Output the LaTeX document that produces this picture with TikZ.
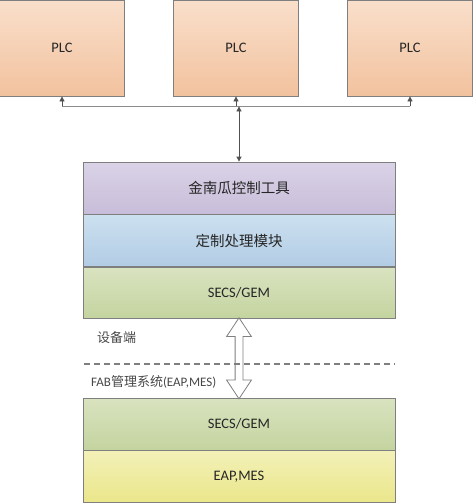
\documentclass[tikz,border=0pt]{standalone}
\usepackage{fontspec}
\setmainfont{Carlito}
\newfontfamily\cjk{Noto Sans CJK SC}
\usetikzlibrary{arrows.meta, shapes, positioning, calc}

\definecolor{boxline}{HTML}{7F7F7F}
\definecolor{wirecol}{HTML}{8C8C8C}
\definecolor{txt}{HTML}{262626}
\definecolor{plctop}{HTML}{F9DFCB}
\definecolor{plcbot}{HTML}{F2C29E}
\definecolor{purtop}{HTML}{DAD3E7}
\definecolor{purbot}{HTML}{C8BDD9}
\definecolor{blutop}{HTML}{CCE0EF}
\definecolor{blubot}{HTML}{B2CCE5}
\definecolor{grntop}{HTML}{D9E3C0}
\definecolor{grnbot}{HTML}{C4D49F}
\definecolor{yeltop}{HTML}{F3F1B8}
\definecolor{yelbot}{HTML}{EAE68A}

\begin{document}
\begin{tikzpicture}[x=1pt, y=1pt, node distance = 0pt,
    plc/.style = {draw=boxline, line width=0.8pt, top color=plctop, bottom color=plcbot,
      minimum width=125pt, minimum height=96pt, text=txt, font=\fontsize{14.5}{16}\selectfont},
    layer/.style = {draw=boxline, line width=0.8pt, minimum width=312pt, minimum height=52pt,
      text=txt, font=\fontsize{14.5}{16}\selectfont},
    side/.style = {anchor=west, text=txt!85, inner sep=0pt, font=\fontsize{13}{15}\selectfont},
    wire/.style = {draw=wirecol, line width=0.8pt},
    tip/.style = {-{Triangle[length=5pt, width=5pt]}, draw=txt!80, fill=txt!80},
    bigarrow/.style = {double arrow, draw=boxline, fill=white, line width=0.8pt, inner sep=3.5pt,
      minimum height=81pt, minimum width=24pt, double arrow head extend=8.5pt,
      double arrow tip angle=67, rotate=90}]
  \useasboundingbox (0,0) rectangle (474,-504);

  \node[plc] (plcA) at (62,-48)  {PLC};
  \node[plc] (plcB) at (236,-48) {PLC};
  \node[plc] (plcC) at (410,-48) {PLC};

  \node[layer, top color=purtop, bottom color=purbot] (tool) at (239,-188) {\cjk 金南瓜控制工具};
  \node[layer, top color=blutop, bottom color=blubot, below = of tool] (custom) {\cjk 定制处理模块};
  \node[layer, top color=grntop, bottom color=grnbot, below = of custom, minimum height=51pt] (secsA) {SECS/GEM};

  \node[layer, top color=grntop, bottom color=grnbot] (secsB) at (239,-424) {SECS/GEM};
  \node[layer, top color=yeltop, bottom color=yelbot, below = of secsB] (eap) {EAP,MES};

  % bus to the PLCs
  \coordinate (busA) at ($(plcA.south)+(0,-10)$);
  \coordinate (busB) at ($(plcB.south)+(0,-10)$);
  \coordinate (busC) at ($(plcC.south)+(0,-10)$);
  \coordinate (bus) at (tool.north |- busA);
  \draw[wire] (busA) -- (busC);
  \draw[wire, tip] (busA) -- (plcA.south);
  \draw[wire, tip] (busB) -- (plcB.south);
  \draw[wire, tip] (busC) -- (plcC.south);
  \draw[wire, {Triangle[length=5pt, width=5pt]}-{Triangle[length=5pt, width=5pt]}, draw=txt!80, fill=txt!80]
    (bus) -- (tool.north);

  % equipment side / FAB side
  \node[bigarrow] (link) at ($(secsA.south)!0.5!(secsB.north)$) {};
  \coordinate (cutL) at (84,-364);
  \coordinate (cutR) at (395,-364);
  \draw[draw=boxline, line width=1.2pt, dash pattern=on 6pt off 4pt] (cutL) -- (cutR);
  \node[side] (equip) at (97,-338) {\cjk 设备端};
  \node[side] (fab) at (91,-382) {FAB{\cjk 管理系统}(EAP,MES)};
\end{tikzpicture}
\end{document}
